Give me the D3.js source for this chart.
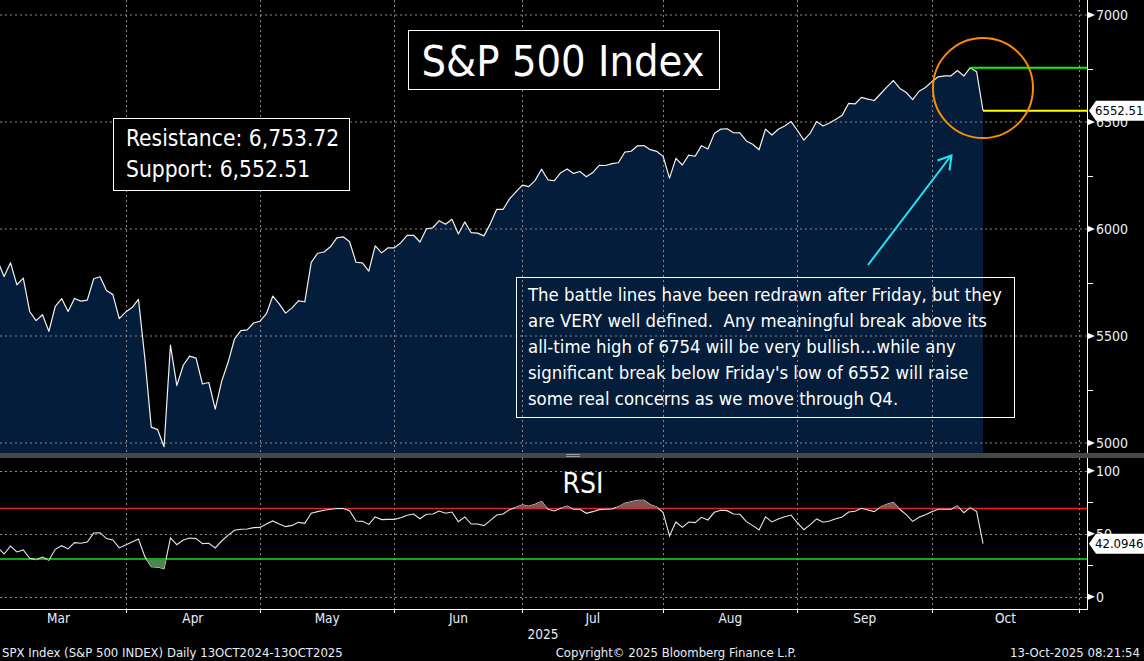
<!DOCTYPE html>
<html>
<head>
<meta charset="utf-8">
<script src="https://cdn.jsdelivr.net/npm/d3@7"></script>
<style>
  body { margin: 0; background: #000; overflow: hidden; }
  svg { display: block; }
  text { font-family: "DejaVu Sans Condensed", "DejaVu Sans", sans-serif; }
</style>
</head>
<body>
<svg id="chart" width="1144" height="661"></svg>
<script>
// Trading sessions (Feb 28 is just off the left edge)
const tradingDays = [
  '02-28',
  '03-03','03-04','03-05','03-06','03-07','03-10','03-11','03-12','03-13','03-14','03-17','03-18','03-19','03-20','03-21','03-24','03-25','03-26','03-27','03-28','03-31',
  '04-01','04-02','04-03','04-04','04-07','04-08','04-09','04-10','04-11','04-14','04-15','04-16','04-17','04-21','04-22','04-23','04-24','04-25','04-28','04-29','04-30',
  '05-01','05-02','05-05','05-06','05-07','05-08','05-09','05-12','05-13','05-14','05-15','05-16','05-19','05-20','05-21','05-22','05-23','05-27','05-28','05-29','05-30',
  '06-02','06-03','06-04','06-05','06-06','06-09','06-10','06-11','06-12','06-13','06-16','06-17','06-18','06-20','06-23','06-24','06-25','06-26','06-27','06-30',
  '07-01','07-02','07-03','07-07','07-08','07-09','07-10','07-11','07-14','07-15','07-16','07-17','07-18','07-21','07-22','07-23','07-24','07-25','07-28','07-29','07-30','07-31',
  '08-01','08-04','08-05','08-06','08-07','08-08','08-11','08-12','08-13','08-14','08-15','08-18','08-19','08-20','08-21','08-22','08-25','08-26','08-27','08-28','08-29',
  '09-02','09-03','09-04','09-05','09-08','09-09','09-10','09-11','09-12','09-15','09-16','09-17','09-18','09-19','09-22','09-23','09-24','09-25','09-26','09-29','09-30',
  '10-01','10-02','10-03','10-06','10-07','10-08','10-09','10-10'
];

const closes = [
  5954.50,
  5849.72,5778.15,5842.63,5738.52,5770.20,5614.56,5572.07,5599.30,5521.52,5638.94,5675.12,5614.66,5675.29,5662.89,5667.56,5767.57,5776.65,5712.20,5693.31,5580.94,5611.85,
  5633.07,5670.97,5396.52,5074.08,5062.25,4982.77,5456.90,5268.05,5363.36,5405.97,5396.63,5275.70,5282.70,5158.20,5287.76,5375.86,5484.77,5525.21,5528.75,5560.83,5569.06,
  5604.14,5686.67,5650.38,5606.91,5631.28,5663.94,5659.91,5844.19,5886.55,5892.58,5916.93,5958.38,5963.60,5940.46,5844.61,5842.01,5802.82,5921.54,5888.55,5912.17,5911.69,
  5935.94,5970.37,5970.81,5939.30,6000.36,6005.88,6038.81,6022.24,6045.26,5976.97,6033.11,5982.72,5980.87,5967.84,6025.17,6092.18,6092.16,6141.02,6173.07,6204.95,
  6198.01,6227.42,6279.35,6229.98,6225.52,6263.26,6280.46,6259.75,6268.56,6243.76,6263.70,6297.36,6296.79,6305.60,6309.62,6358.91,6363.35,6388.64,6389.77,6370.86,6362.90,6339.39,
  6238.01,6329.94,6299.19,6345.06,6340.00,6389.45,6373.45,6445.76,6466.58,6468.54,6449.80,6449.15,6411.37,6395.78,6370.17,6466.91,6439.32,6465.94,6481.40,6501.86,6460.26,
  6415.54,6448.26,6502.08,6481.50,6495.15,6512.61,6532.04,6587.47,6584.29,6615.28,6606.76,6600.35,6631.96,6664.36,6693.75,6656.92,6637.97,6604.72,6643.70,6661.21,6688.46,
  6711.20,6715.35,6715.79,6740.28,6714.59,6753.72,6735.11,6552.51
];

const rsi = [
  44.0,
  39.2,33.9,40.2,35.5,37.1,30.5,29.4,31.5,28.9,37.6,40.5,37.9,42.9,42.4,43.4,50.5,50.8,46.1,45.0,38.7,41.0,
  43.4,45.8,31.8,23.8,23.5,22.2,46.6,41.3,45.0,46.6,46.1,42.1,42.4,38.7,44.2,48.7,52.7,53.5,53.7,54.8,55.0,
  57.7,60.1,57.7,55.6,56.6,59.0,58.2,66.2,67.5,68.6,69.4,70.0,70.0,68.3,60.1,59.8,57.4,63.3,61.2,61.4,61.4,
  62.7,64.6,65.6,61.9,65.4,65.6,68.0,66.2,67.2,59.6,63.3,57.7,57.7,56.4,60.6,64.8,65.6,69.1,70.9,73.0,
  71.7,73.3,75.7,69.4,68.0,70.2,72.0,69.4,69.4,66.2,67.5,69.1,69.4,69.7,71.3,74.1,75.4,76.5,76.5,73.0,71.3,66.7,
  48.2,59.3,55.0,59.3,58.8,63.0,60.9,67.0,68.6,68.3,65.6,65.4,59.6,56.4,53.0,63.3,59.3,61.7,63.5,64.8,58.5,
  53.2,57.2,61.7,59.1,60.1,61.9,63.3,67.2,67.8,70.2,68.8,67.5,71.3,73.3,74.9,69.4,65.1,59.8,63.0,65.1,67.5,
  69.4,69.4,69.4,72.0,66.7,70.7,67.5,42.0946
];

const monthLabels = ['Mar', 'Apr', 'May', 'Jun', 'Jul', 'Aug', 'Sep', 'Oct'];
// session index of the last close of the previous month (Nov boundary is in the future)
const monthBounds = [-1, 20, 41, 62, 82, 104, 125, 146, 169];
const priceTicks = [5000, 5500, 6000, 6500, 7000];
const priceMinorTicks = [5250, 5750, 6250, 6750];
const rsiTicks = [0, 50, 100];
const rsiMinorTicks = [25, 75];
const rsiBands = [30, 70];

const resistance = 6753.72;
const support = 6552.51;
const lastRsi = 42.0946;

const noteLines = [
  'The battle lines have been redrawn after Friday, but they',
  'are VERY well defined.  Any meaningful break above its',
  'all-time high of 6754 will be very bullish\u2026while any',
  "significant break below Friday's low of 6552 will raise",
  'some real concerns as we move through Q4.'
];

// Layout
const W = 1144, H = 661;
const axisX = 1087;
const mainTop = 0, mainBottom = 453;
const rsiTop = 458, rsiBottom = 609;

const svg = d3.select('#chart');
svg.append('rect').attr('width', W).attr('height', H).attr('fill', '#000');

const series = closes.map((c, k) => ({ i: k - 1, close: c, rsi: rsi[k] }));

const x = d3.scaleLinear().domain([0, 170]).range([-2.3, 1085.4]);
const y = d3.scaleLinear().domain([5000, 7000]).range([443, 15]);
const yr = d3.scaleLinear().domain([0, 100]).range([596.7, 470.7]);

const defs = svg.append('defs');
defs.append('clipPath').attr('id', 'clipMain')
  .append('rect').attr('x', 0).attr('y', mainTop).attr('width', axisX).attr('height', mainBottom - mainTop);
defs.append('clipPath').attr('id', 'clipRsi')
  .append('rect').attr('x', 0).attr('y', rsiTop).attr('width', axisX).attr('height', rsiBottom - rsiTop);
defs.append('clipPath').attr('id', 'clipOver')
  .append('rect').attr('x', 0).attr('y', rsiTop).attr('width', axisX).attr('height', yr(70) - rsiTop);
defs.append('clipPath').attr('id', 'clipUnder')
  .append('rect').attr('x', 0).attr('y', yr(30)).attr('width', axisX).attr('height', rsiBottom - yr(30));

const gridColor = '#8a8a8a';
const gridDash = '2,3';

// ---------- Main panel ----------
const main = svg.append('g').attr('clip-path', 'url(#clipMain)');

main.append('path')
  .datum(series)
  .attr('fill', '#031d3b')
  .attr('d', d3.area().x(d => x(d.i)).y0(mainBottom).y1(d => y(d.close)));

main.selectAll('.hgrid').data(priceTicks).enter().append('line')
  .attr('x1', 0).attr('x2', axisX)
  .attr('y1', d => y(d)).attr('y2', d => y(d))
  .attr('stroke', gridColor).attr('stroke-dasharray', gridDash).attr('stroke-width', 1);

main.selectAll('.vgrid').data(monthBounds.slice(1)).enter().append('line')
  .attr('x1', d => Math.round(x(d)) + 0.5).attr('x2', d => Math.round(x(d)) + 0.5)
  .attr('y1', mainTop).attr('y2', mainBottom)
  .attr('stroke', gridColor).attr('stroke-dasharray', gridDash).attr('stroke-width', 1);

main.append('path')
  .datum(series)
  .attr('fill', 'none')
  .attr('stroke', '#f2f2f2')
  .attr('stroke-width', 1.2)
  .attr('stroke-linejoin', 'round')
  .attr('d', d3.line().x(d => x(d.i)).y(d => y(d.close)));

// resistance / support lines
const lastIdx = series[series.length - 1].i;
const highIdx = series.reduce((a, b) => (b.close > a.close ? b : a)).i;
svg.append('line')
  .attr('x1', x(highIdx)).attr('x2', axisX)
  .attr('y1', y(resistance)).attr('y2', y(resistance))
  .attr('stroke', '#00ff00').attr('stroke-width', 2);
svg.append('line')
  .attr('x1', x(lastIdx)).attr('x2', axisX)
  .attr('y1', y(support)).attr('y2', y(support))
  .attr('stroke', '#ffff00').attr('stroke-width', 2);

// ---------- Price axis ----------
const axisColor = '#ffffff';
const labelColor = '#e8eef8';
svg.append('line').attr('x1', axisX + 0.5).attr('x2', axisX + 0.5).attr('y1', 0).attr('y2', mainBottom)
  .attr('stroke', axisColor).attr('stroke-width', 1);

function drawRightTicks(scale, major, minor) {
  svg.selectAll(null).data(major).enter().append('path')
    .attr('d', d => `M${axisX},${scale(d) - 3.5}L${axisX + 8},${scale(d)}L${axisX},${scale(d) + 3.5}Z`)
    .attr('fill', axisColor);
  svg.selectAll(null).data(minor).enter().append('line')
    .attr('x1', axisX).attr('x2', axisX + 6)
    .attr('y1', d => Math.round(scale(d)) + 0.5).attr('y2', d => Math.round(scale(d)) + 0.5)
    .attr('stroke', axisColor).attr('stroke-width', 1);
  svg.selectAll(null).data(major).enter().append('text')
    .attr('x', axisX + 9).attr('y', d => scale(d))
    .attr('dy', '0.36em')
    .attr('fill', labelColor)
    .style('font-size', '14px')
    .text(d => d);
}
drawRightTicks(y, priceTicks, priceMinorTicks);

function valueTag(yPos, label) {
  const g = svg.append('g');
  g.append('path')
    .attr('d', `M${axisX + 2},${yPos}L${axisX + 9},${yPos - 10}L${W},${yPos - 10}L${W},${yPos + 10}L${axisX + 9},${yPos + 10}Z`)
    .attr('fill', '#ffffff');
  g.append('text')
    .attr('x', axisX + 8).attr('y', yPos).attr('dy', '0.36em')
    .attr('fill', '#000').style('font-size', '13px')
    .text(label);
}
valueTag(y(support), support.toFixed(2));

// ---------- Separator ----------
svg.append('rect').attr('x', 0).attr('y', mainBottom).attr('width', W).attr('height', rsiTop - mainBottom).attr('fill', '#474747');
svg.append('line').attr('x1', 566).attr('x2', 580).attr('y1', 454.5).attr('y2', 454.5).attr('stroke', '#9a9a9a');
svg.append('line').attr('x1', 566).attr('x2', 580).attr('y1', 456.5).attr('y2', 456.5).attr('stroke', '#9a9a9a');

// ---------- RSI panel ----------
const rp = svg.append('g').attr('clip-path', 'url(#clipRsi)');

rp.selectAll('.hgrid').data(rsiTicks).enter().append('line')
  .attr('x1', 0).attr('x2', axisX)
  .attr('y1', d => Math.round(yr(d)) + 0.5).attr('y2', d => Math.round(yr(d)) + 0.5)
  .attr('stroke', gridColor).attr('stroke-dasharray', gridDash);
rp.selectAll('.vgrid').data(monthBounds.slice(1)).enter().append('line')
  .attr('x1', d => Math.round(x(d)) + 0.5).attr('x2', d => Math.round(x(d)) + 0.5)
  .attr('y1', rsiTop).attr('y2', rsiBottom)
  .attr('stroke', gridColor).attr('stroke-dasharray', gridDash);

svg.append('g').attr('clip-path', 'url(#clipOver)').append('path')
  .datum(series)
  .attr('fill', '#7e5454')
  .attr('d', d3.area().x(d => x(d.i)).y0(yr(70)).y1(d => yr(d.rsi)));
svg.append('g').attr('clip-path', 'url(#clipUnder)').append('path')
  .datum(series)
  .attr('fill', '#4b864b')
  .attr('d', d3.area().x(d => x(d.i)).y0(yr(30)).y1(d => yr(d.rsi)));

rp.append('line').attr('x1', 0).attr('x2', axisX).attr('y1', yr(rsiBands[1])).attr('y2', yr(rsiBands[1]))
  .attr('stroke', '#ff1a1a').attr('stroke-width', 1.5);
rp.append('line').attr('x1', 0).attr('x2', axisX).attr('y1', yr(rsiBands[0])).attr('y2', yr(rsiBands[0]))
  .attr('stroke', '#19e019').attr('stroke-width', 1.5);

rp.append('path')
  .datum(series)
  .attr('fill', 'none')
  .attr('stroke', '#e6e6e6')
  .attr('stroke-width', 1.1)
  .attr('d', d3.line().x(d => x(d.i)).y(d => yr(d.rsi)));

svg.append('text')
  .attr('x', 583).attr('y', 483).attr('dy', '0.36em')
  .attr('text-anchor', 'middle')
  .attr('fill', '#ffffff')
  .style('font-size', '28px')
  .text('RSI');

svg.append('line').attr('x1', axisX + 0.5).attr('x2', axisX + 0.5).attr('y1', rsiTop).attr('y2', rsiBottom + 1)
  .attr('stroke', axisColor);
drawRightTicks(yr, rsiTicks, rsiMinorTicks);
valueTag(yr(lastRsi), lastRsi.toFixed(4));

// ---------- Time axis ----------
svg.append('line').attr('x1', 0).attr('x2', axisX + 1).attr('y1', rsiBottom + 0.5).attr('y2', rsiBottom + 0.5)
  .attr('stroke', axisColor);
svg.selectAll('.xtick').data(monthBounds.slice(1)).enter().append('line')
  .attr('x1', d => Math.round(x(d)) + 0.5).attr('x2', d => Math.round(x(d)) + 0.5)
  .attr('y1', rsiBottom).attr('y2', rsiBottom + 4)
  .attr('stroke', axisColor);
svg.selectAll('.xlabel').data(monthLabels).enter().append('text')
  .attr('x', (d, k) => (x(monthBounds[k]) + x(monthBounds[k + 1])) / 2)
  .attr('y', 618).attr('dy', '0.36em')
  .attr('text-anchor', 'middle')
  .attr('fill', labelColor)
  .style('font-size', '13.5px')
  .text(d => d);
svg.append('text')
  .attr('x', 543).attr('y', 634).attr('dy', '0.36em')
  .attr('text-anchor', 'middle')
  .attr('fill', labelColor)
  .style('font-size', '13.5px')
  .text('2025');

// ---------- Footer ----------
const footer = svg.append('g').attr('fill', labelColor).style('font-size', '13px');
footer.append('text').attr('x', 2).attr('y', 652).attr('dy', '0.36em')
  .text('SPX Index (S&P 500 INDEX) Daily 13OCT2024-13OCT2025');
footer.append('text').attr('x', 676).attr('y', 652).attr('dy', '0.36em').attr('text-anchor', 'middle')
  .text('Copyright\u00a9 2025 Bloomberg Finance L.P.');
footer.append('text').attr('x', 1140).attr('y', 652).attr('dy', '0.36em').attr('text-anchor', 'end')
  .text('13-Oct-2025 08:21:54');

// ---------- Annotations ----------
// title box
svg.append('rect').attr('x', 408.5).attr('y', 30.5).attr('width', 311).attr('height', 59)
  .attr('fill', '#000').attr('stroke', '#fff').attr('stroke-width', 1);
svg.append('text').attr('x', 563).attr('y', 61).attr('dy', '0.36em').attr('text-anchor', 'middle')
  .attr('fill', '#fff').style('font-size', '43px')
  .text('S&P 500 Index');

// levels box
svg.append('rect').attr('x', 113.5).attr('y', 118.5).attr('width', 236).attr('height', 72)
  .attr('fill', '#000').attr('stroke', '#fff').attr('stroke-width', 1);
svg.append('text').attr('x', 126).attr('y', 138).attr('dy', '0.36em')
  .attr('fill', '#fff').style('font-size', '22.6px')
  .text('Resistance: ' + d3.format(',.2f')(resistance));
svg.append('text').attr('x', 126).attr('y', 169).attr('dy', '0.36em')
  .attr('fill', '#fff').style('font-size', '22.6px')
  .text('Support: ' + d3.format(',.2f')(support));

// commentary box
svg.append('rect').attr('x', 516.5).attr('y', 277.5).attr('width', 498).attr('height', 140)
  .attr('fill', 'none').attr('stroke', '#fff').attr('stroke-width', 1);
svg.selectAll('.note').data(noteLines).enter().append('text')
  .attr('x', 528).attr('y', (d, k) => 294 + k * 26).attr('dy', '0.36em')
  .attr('fill', '#fff').style('font-size', '18.4px').style('white-space', 'pre')
  .text(d => d);

// arrow
svg.append('line').attr('x1', 868).attr('y1', 265).attr('x2', 950).attr('y2', 157)
  .attr('stroke', '#1ee6f5').attr('stroke-width', 2);
svg.append('path').attr('d', 'M937.5,160.5L951.5,155.5L949.5,170.5')
  .attr('fill', 'none').attr('stroke', '#1ee6f5').attr('stroke-width', 2).attr('stroke-linejoin', 'miter');

// highlight circle
svg.append('circle').attr('cx', 983).attr('cy', 88).attr('r', 50)
  .attr('fill', 'none').attr('stroke', '#ff8c00').attr('stroke-width', 2);
</script>
</body>
</html>
